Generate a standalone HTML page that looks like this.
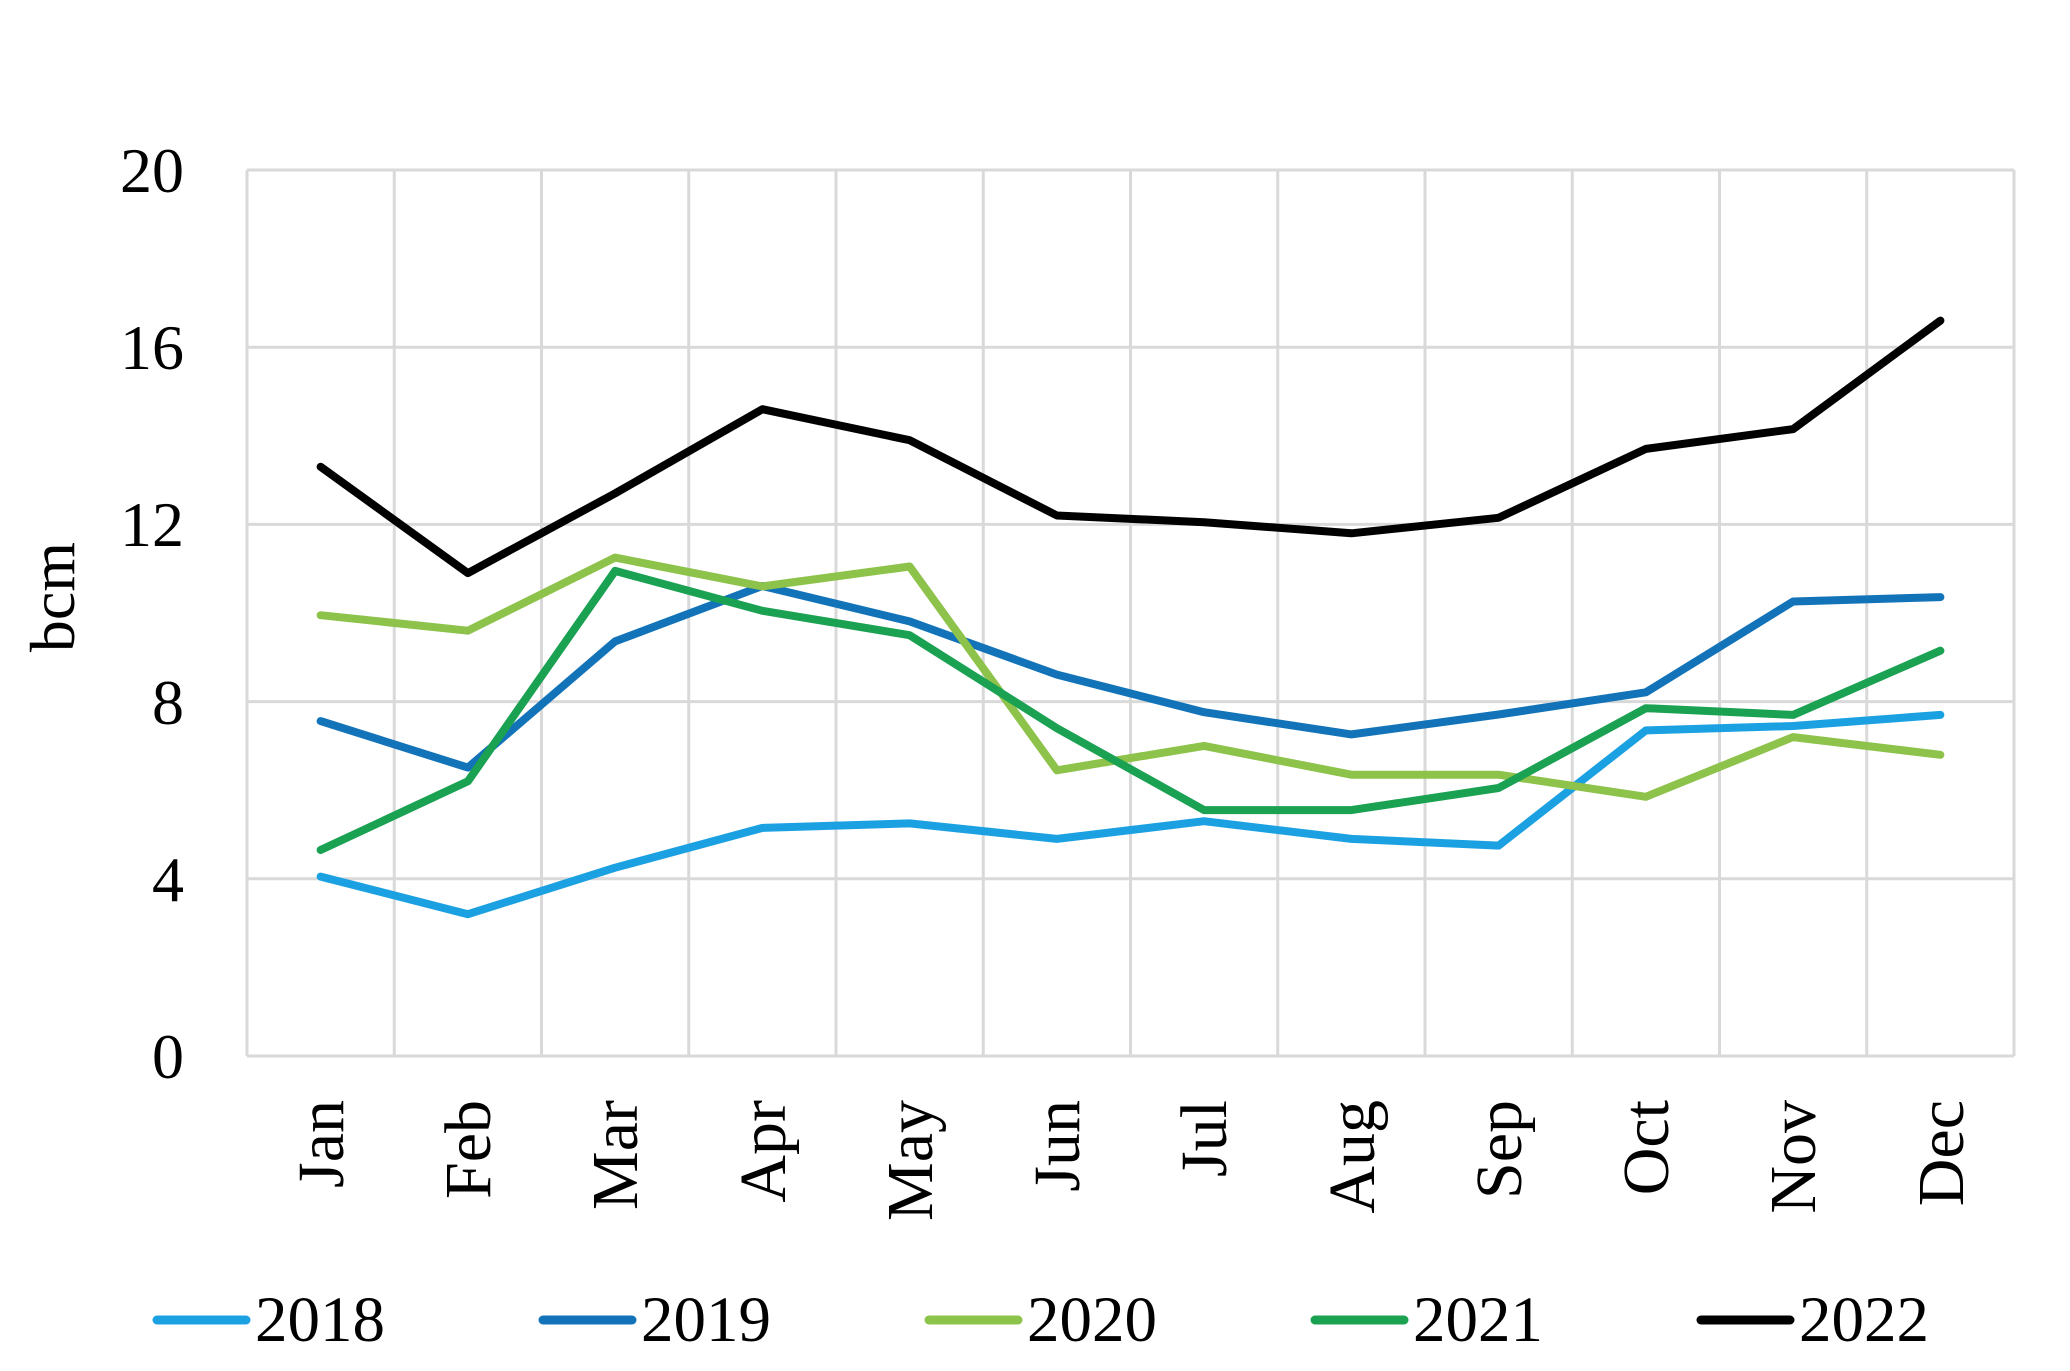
<!DOCTYPE html>
<html><head><meta charset="utf-8"><style>
html,body{margin:0;padding:0;background:#fff;}
svg{display:block;}
text{font-family:"Liberation Serif",serif;fill:#000;}
</style></head><body>
<svg width="2070" height="1371" viewBox="0 0 2070 1371" xmlns="http://www.w3.org/2000/svg">
<g stroke="#d9d9d9" stroke-width="3" fill="none">
<line x1="247" y1="170" x2="2014" y2="170"/>
<line x1="247" y1="347.2" x2="2014" y2="347.2"/>
<line x1="247" y1="524.4" x2="2014" y2="524.4"/>
<line x1="247" y1="701.6" x2="2014" y2="701.6"/>
<line x1="247" y1="878.8" x2="2014" y2="878.8"/>
<line x1="247" y1="1056" x2="2014" y2="1056"/>
<line x1="247" y1="170" x2="247" y2="1056"/>
<line x1="394.25" y1="170" x2="394.25" y2="1056"/>
<line x1="541.5" y1="170" x2="541.5" y2="1056"/>
<line x1="688.75" y1="170" x2="688.75" y2="1056"/>
<line x1="836" y1="170" x2="836" y2="1056"/>
<line x1="983.25" y1="170" x2="983.25" y2="1056"/>
<line x1="1130.5" y1="170" x2="1130.5" y2="1056"/>
<line x1="1277.75" y1="170" x2="1277.75" y2="1056"/>
<line x1="1425" y1="170" x2="1425" y2="1056"/>
<line x1="1572.25" y1="170" x2="1572.25" y2="1056"/>
<line x1="1719.5" y1="170" x2="1719.5" y2="1056"/>
<line x1="1866.75" y1="170" x2="1866.75" y2="1056"/>
<line x1="2014" y1="170" x2="2014" y2="1056"/>
</g>
<g font-size="64" text-anchor="end">
<text x="184" y="192">20</text>
<text x="184" y="369">16</text>
<text x="184" y="546">12</text>
<text x="184" y="724">8</text>
<text x="184" y="901">4</text>
<text x="184" y="1078">0</text>
</g>
<text font-size="64" transform="translate(74,597) rotate(-90)" text-anchor="middle">bcm</text>
<g font-size="66" text-anchor="end">
<text transform="translate(343,1100) rotate(-90)">Jan</text>
<text transform="translate(490,1100) rotate(-90)">Feb</text>
<text transform="translate(637,1100) rotate(-90)">Mar</text>
<text transform="translate(785,1100) rotate(-90)">Apr</text>
<text transform="translate(932,1100) rotate(-90)">May</text>
<text transform="translate(1079,1100) rotate(-90)">Jun</text>
<text transform="translate(1226,1100) rotate(-90)">Jul</text>
<text transform="translate(1374,1100) rotate(-90)">Aug</text>
<text transform="translate(1521,1100) rotate(-90)">Sep</text>
<text transform="translate(1668,1100) rotate(-90)">Oct</text>
<text transform="translate(1815,1100) rotate(-90)">Nov</text>
<text transform="translate(1963,1100) rotate(-90)">Dec</text>
</g>
<g fill="none" stroke-width="8" stroke-linejoin="round" stroke-linecap="round">
<polyline stroke="#1ba1e2" points="320.6,876.6 467.9,914.2 615.1,867.7 762.4,827.9 909.6,823.4 1056.9,838.9 1204.1,821.2 1351.4,838.9 1498.6,845.6 1645.9,730.4 1793.1,726 1940.4,714.9"/>
<polyline stroke="#1273b8" points="320.6,721.1 467.9,767.6 615.1,641.4 762.4,586 909.6,621.4 1056.9,674.6 1204.1,712.2 1351.4,734.4 1498.6,714.5 1645.9,692.3 1793.1,601.5 1940.4,597.1"/>
<polyline stroke="#8dc34a" points="320.6,615.2 467.9,630.7 615.1,557.6 762.4,586.4 909.6,566.5 1056.9,770.3 1204.1,745.9 1351.4,774.7 1498.6,774.7 1645.9,796.8 1793.1,737.1 1940.4,754.8"/>
<polyline stroke="#1aa152" points="320.6,850 467.9,781.3 615.1,570.9 762.4,610.8 909.6,635.2 1056.9,728.2 1204.1,810.1 1351.4,810.1 1498.6,788 1645.9,708.2 1793.1,714.9 1940.4,650.7"/>
<polyline stroke="#000000" points="320.6,466.8 467.9,573.1 615.1,493.4 762.4,409.2 909.6,440.2 1056.9,515.5 1204.1,522.2 1351.4,533.3 1498.6,517.8 1645.9,448.9 1793.1,429.1 1940.4,320.6"/>
</g>
<g stroke-width="9" stroke-linecap="round">
<line x1="157" y1="1320" x2="246" y2="1320" stroke="#1ba1e2"/>
<line x1="543" y1="1320" x2="632" y2="1320" stroke="#1273b8"/>
<line x1="929" y1="1320" x2="1018" y2="1320" stroke="#8dc34a"/>
<line x1="1315" y1="1320" x2="1404" y2="1320" stroke="#1aa152"/>
<line x1="1701" y1="1320" x2="1790" y2="1320" stroke="#000"/>
</g>
<g font-size="65">
<text x="255" y="1341">2018</text>
<text x="641" y="1341">2019</text>
<text x="1027" y="1341">2020</text>
<text x="1413" y="1341">2021</text>
<text x="1799" y="1341">2022</text>
</g>
</svg>
</body></html>
